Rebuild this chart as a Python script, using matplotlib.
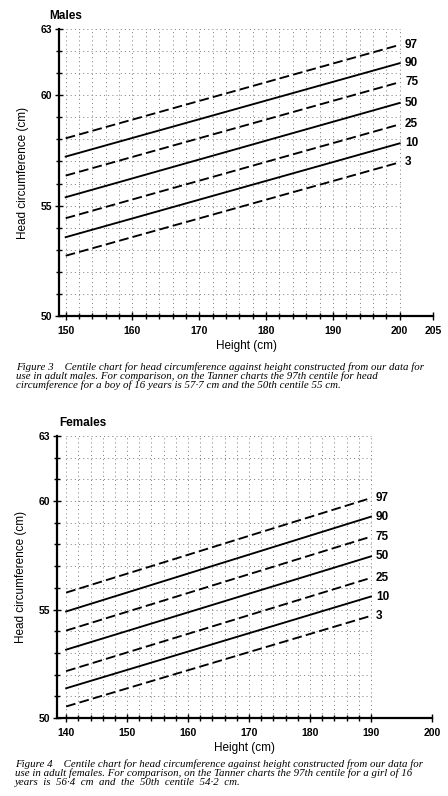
import matplotlib
matplotlib.use("Agg")
import matplotlib.pyplot as plt

centiles = ["3", "10", "25", "50", "75", "90", "97"]
dashed = ["3", "25", "75", "97"]

male_height = [150, 200]
male_hc_150 = [52.73, 53.57, 54.43, 55.38, 56.36, 57.22, 58.05]
male_hc_200 = [56.96, 57.82, 58.68, 59.65, 60.59, 61.45, 62.28]

female_height = [140, 190]
female_hc_140 = [50.53, 51.37, 52.16, 53.15, 54.03, 54.91, 55.78]
female_hc_190 = [54.71, 55.60, 56.46, 57.45, 58.36, 59.28, 60.14]

male_xticks = [150, 160, 170, 180, 190, 200, 205]
female_xticks = [140, 150, 160, 170, 180, 190, 200]
yticks = [50, 55, 60, 63]

caption3 = ("Figure 3    Centile chart for head circumference against height constructed from our data for\n"
            "use in adult males. For comparison, on the Tanner charts the 97th centile for head\n"
            "circumference for a boy of 16 years is 57\u00b77 cm and the 50th centile 55 cm.")
caption4 = ("Figure 4    Centile chart for head circumference against height constructed from our data for\n"
            "use in adult females. For comparison, on the Tanner charts the 97th centile for a girl of 16\n"
            "years  is  56\u00b74  cm  and  the  50th  centile  54\u00b72  cm.")

plt.rcParams['font.family'] = ['Liberation Sans', 'DejaVu Sans']
plt.rcParams['lines.scale_dashes'] = False


def draw_panel(ax, heights, lo, hi, xlim, xticks, title, title_x):
    x0, x1 = heights
    # dotted grid inside the data area only
    for gx in range(x0, x1 + 1, 2):
        ax.plot([gx, gx], [50, 63], ls=(0, (0.8, 2.2)), color="#888888", lw=0.7, zorder=1)
    for gy in range(51, 64):
        ax.plot([x0, x1], [gy, gy], ls=(0, (0.8, 2.2)), color="#888888", lw=0.7, zorder=1)

    for name, a, b in zip(centiles, lo, hi):
        ls = (0, (7.0, 3.0)) if name in dashed else "-"
        ax.plot(heights, [a, b], ls=ls, color="black", lw=1.35, zorder=3)
        ax.text(x1 + 0.8, b, name, fontsize=8.5, fontweight="bold", va="center", ha="left")

    ax.set_xlim(*xlim)
    ax.set_ylim(50, 63)
    ax.set_xticks(xticks)
    ax.set_xticks(range(x0, x1 + 1, 2), minor=True)
    ax.set_yticks(yticks)
    ax.set_yticks(range(50, 64), minor=True)
    ax.tick_params(which="both", direction="inout", width=1.0, labelsize=7.5)
    ax.tick_params(which="major", length=6)
    ax.tick_params(which="minor", length=4)
    ax.tick_params(axis="x", pad=4)
    ax.tick_params(axis="y", pad=2)
    for lab in ax.get_xticklabels() + ax.get_yticklabels():
        lab.set_fontweight("bold")
    ax.spines["top"].set_visible(False)
    ax.spines["right"].set_visible(False)
    ax.spines["left"].set_linewidth(1.6)
    ax.spines["bottom"].set_linewidth(1.6)
    ax.set_xlabel("Height (cm)", fontsize=8.5, labelpad=3)
    ax.set_ylabel("Head circumference (cm)", fontsize=8.5, labelpad=8)
    ax.text(title_x, 1.025, title, transform=ax.transAxes, fontsize=8.5, fontweight="bold",
            ha="left", va="bottom")


fig = plt.figure(figsize=(4.48, 7.96), dpi=100)

ax1 = fig.add_axes([0.1317, 0.603, 0.835, 0.3606])
draw_panel(ax1, male_height, male_hc_150, male_hc_200, (149, 205), male_xticks, "Males", -0.025)

ax2 = fig.add_axes([0.1272, 0.098, 0.837, 0.3543])
draw_panel(ax2, female_height, female_hc_140, female_hc_190, (138.5, 200), female_xticks, "Females", 0.005)

fig.text(16 / 448, 1 - 362 / 796, caption3, fontsize=7.8, style="italic", family="Liberation Serif",
         va="top", ha="left", linespacing=0.95)
fig.text(15 / 448, 1 - 759 / 796, caption4, fontsize=7.8, style="italic", family="Liberation Serif",
         va="top", ha="left", linespacing=0.95)

fig.savefig("out.png", dpi=100)
